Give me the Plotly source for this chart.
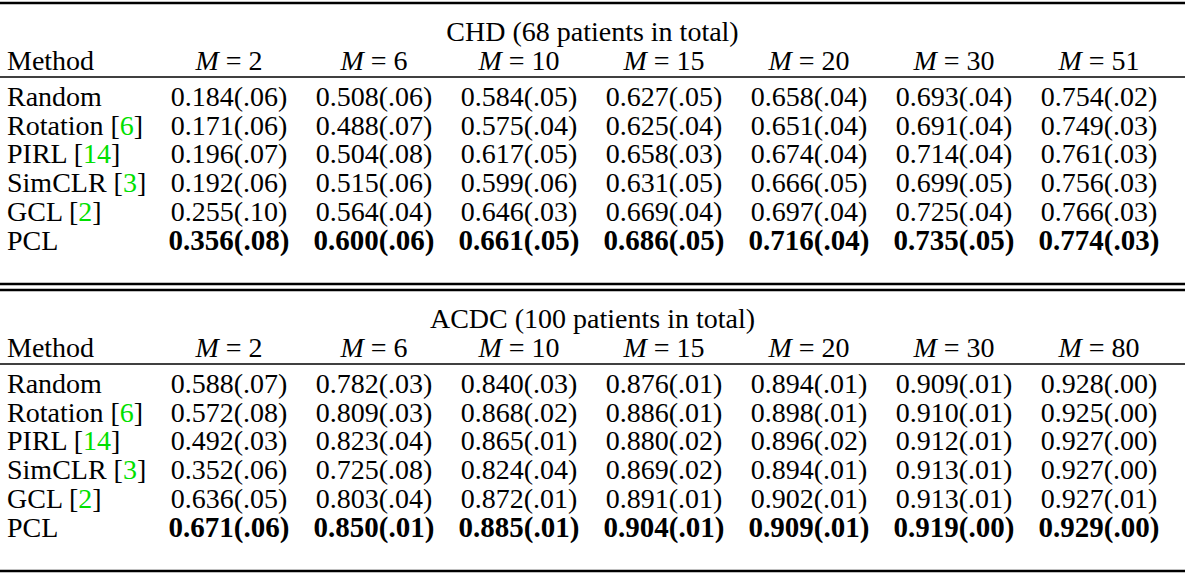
import plotly.graph_objects as go

# table content
methods = ["Random", "Rotation", "PIRL", "SimCLR", "GCL", "PCL"]
method_refs = ["", "6", "14", "3", "2", ""]

chd_title = "CHD (68 patients in total)"
chd_m = [2, 6, 10, 15, 20, 30, 51]
chd_mean = [
    [0.184, 0.508, 0.584, 0.627, 0.658, 0.693, 0.754],
    [0.171, 0.488, 0.575, 0.625, 0.651, 0.691, 0.749],
    [0.196, 0.504, 0.617, 0.658, 0.674, 0.714, 0.761],
    [0.192, 0.515, 0.599, 0.631, 0.666, 0.699, 0.756],
    [0.255, 0.564, 0.646, 0.669, 0.697, 0.725, 0.766],
    [0.356, 0.600, 0.661, 0.686, 0.716, 0.735, 0.774],
]
chd_std = [
    [0.06, 0.06, 0.05, 0.05, 0.04, 0.04, 0.02],
    [0.06, 0.07, 0.04, 0.04, 0.04, 0.04, 0.03],
    [0.07, 0.08, 0.05, 0.03, 0.04, 0.04, 0.03],
    [0.06, 0.06, 0.06, 0.05, 0.05, 0.05, 0.03],
    [0.10, 0.04, 0.03, 0.04, 0.04, 0.04, 0.03],
    [0.08, 0.06, 0.05, 0.05, 0.04, 0.05, 0.03],
]

acdc_title = "ACDC (100 patients in total)"
acdc_m = [2, 6, 10, 15, 20, 30, 80]
acdc_mean = [
    [0.588, 0.782, 0.840, 0.876, 0.894, 0.909, 0.928],
    [0.572, 0.809, 0.868, 0.886, 0.898, 0.910, 0.925],
    [0.492, 0.823, 0.865, 0.880, 0.896, 0.912, 0.927],
    [0.352, 0.725, 0.824, 0.869, 0.894, 0.913, 0.927],
    [0.636, 0.803, 0.872, 0.891, 0.902, 0.913, 0.927],
    [0.671, 0.850, 0.885, 0.904, 0.909, 0.919, 0.929],
]
acdc_std = [
    [0.07, 0.03, 0.03, 0.01, 0.01, 0.01, 0.00],
    [0.08, 0.03, 0.02, 0.01, 0.01, 0.01, 0.00],
    [0.03, 0.04, 0.01, 0.02, 0.02, 0.01, 0.00],
    [0.06, 0.08, 0.04, 0.02, 0.01, 0.01, 0.00],
    [0.05, 0.04, 0.01, 0.01, 0.01, 0.01, 0.01],
    [0.06, 0.01, 0.01, 0.01, 0.01, 0.00, 0.00],
]
best_row = 5

W, H = 1190, 575
FONT = "Liberation Serif, Tinos, Times New Roman, DejaVu Serif, serif"
SIZE = 28
GREEN = "#00e000"
col_x = [229 + 145 * k for k in range(7)]
row_pitch = 28.7
table_right = 1185
dy = 2


def fmt(m, s):
    return f"{m:.3f}({s:.2f})".replace("(0.", "(.")


def method_label(name, ref):
    if not ref:
        return name
    return f"{name} [<span style='color:{GREEN}'>{ref}</span>]"


def txt(x, y, text, pos="middle center", size=SIZE):
    return go.Scatter(x=x, y=y, mode="text", text=text, textposition=pos, cliponaxis=False,
                      hoverinfo="skip",
                      textfont=dict(family=FONT, size=size, color="black"))


fig = go.Figure()


def add_section(y0, title, ms, means, stds):
    y0 = y0 + dy
    # title across the whole table
    fig.add_trace(txt([table_right / 2], [y0 + 32], [title]))
    # header
    fig.add_trace(txt([7], [y0 + 61], ["Method"], pos="middle right"))
    fig.add_trace(txt(col_x, [y0 + 61] * len(ms), [f"<i>M</i> = {m}" for m in ms]))
    # body
    for i, name in enumerate(methods):
        y = y0 + 97 + row_pitch * i
        fig.add_trace(txt([7], [y], [method_label(name, method_refs[i])], pos="middle right"))
        cells = [fmt(m, s) for m, s in zip(means[i], stds[i])]
        size = SIZE
        if i == best_row:
            cells = [f"<b>{c}</b>" for c in cells]
            size = SIZE + 1
        fig.add_trace(txt(col_x, [y] * len(cells), cells, size=size))


add_section(0, chd_title, chd_m, chd_mean, chd_std)
add_section(287, acdc_title, acdc_m, acdc_mean, acdc_std)

# booktabs style rules
for yy in [77, 364]:
    fig.add_shape(type="line", x0=0, x1=table_right, y0=yy, y1=yy,
                  line=dict(color="black", width=1.3))
for yy in [3, 284, 290, 571]:
    fig.add_shape(type="line", x0=0, x1=table_right, y0=yy, y1=yy,
                  line=dict(color="black", width=2.4))

fig.update_layout(
    width=W, height=H,
    margin=dict(l=0, r=0, t=0, b=0),
    paper_bgcolor="white", plot_bgcolor="white",
    showlegend=False,
    xaxis=dict(range=[0, W], visible=False, fixedrange=True),
    yaxis=dict(range=[H, 0], visible=False, fixedrange=True),
)

# drop the browser's default 8px body margin so the table sits at the window corner
fig.write_html("out.html", config={"displayModeBar": False},
               post_script="document.body.style.margin = '0';")
